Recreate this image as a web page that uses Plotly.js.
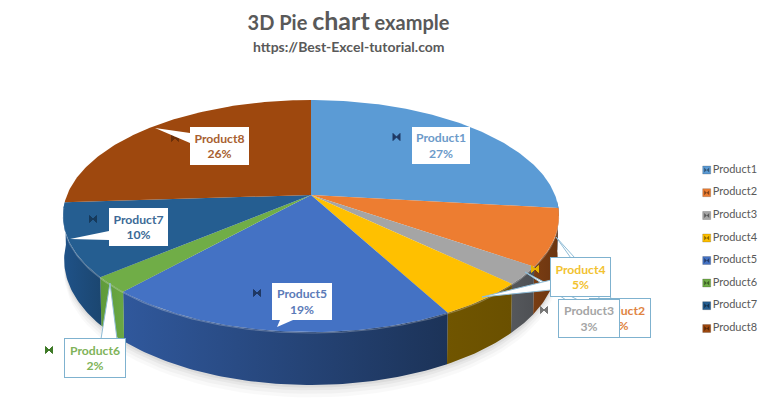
<!DOCTYPE html>
<html><head><meta charset="utf-8">
<script src="https://cdn.plot.ly/plotly-3.0.1.min.js"></script>
<style>html,body{margin:0;padding:0;background:#fff}</style></head>
<body><div id="chart" style="width:768px;height:409px"></div>
<script>
const categories = ["Product1","Product2","Product3","Product4","Product5","Product6","Product7","Product8"];
const shares = [26.8,7.9,2.5,5.0,19.4,2.2,10.2,26.0];
const topColors = ["#5b9bd5","#ed7d31","#a5a5a5","#ffc000","#4472c4","#70ad47","#255e91","#9e480e"];
const sideLeft  = ["#3f75a8","#7a3d12","#55585c","#705500","#30589c","#5f9a3a","#1f5288","#7a360a"];
const sideRight = ["#2f5f8f","#6b3510","#4e5054","#6a5000","#1c3358","#6aa844","#1b4670","#7a360a"];
const labelColors = ["#6c9ac9","#e0833f","#a5a5a5","#f2c230","#5b7ab8","#7fb35a","#3c6a96","#a8602f"];
// label boxes: left, top, right, bottom
const boxes = [[412,127,470,164],[590,299,650,337],[559,300,619,337],[551,258,610,296],[272,283,332,320],[65,339,125,377],[109,208,168,246],[190,127,249,165]];
const outlined = [false,true,true,true,false,true,false,false];
// callout wedges: tip then two base points
const wedges = [null,[[556,237],[600,299],[612,299]],[[525,272],[566,300],[578,300]],[[482,297],[551,280],[551,290]],[[277,327],[280,320],[293,320]],[[110,283],[101,339],[117,339]],[[70,239],[109,231],[109,240]],[[155,128],[190,133],[190,143]]];
const keys = [[396.5,137],null,[544,310],[535,269],[257,293],[49,350],[93,219],[175,138]];
const keyColors = ["#1f3864",null,"#777777","#e8b400","#1f3864","#3f7a28","#163a5c","#6b2f08"];
const legendY = [170,192.7,215.5,238,260.5,283,305.7,328.5];
const legendX = 706.7;

// projective view of the pie circle
const cx=311, cy=195, R=244, H=112.2, K=0.181, DEPTH=42, BX=0.995, BY=1.08;
function proj(deg, bottom){
  const t=deg*Math.PI/180, x=Math.sin(t), y=-Math.cos(t), d=1-K*y;
  return [cx+(bottom?BX:1)*R*x/d, cy+(bottom?DEPTH:0)+(bottom?BY:1)*H*y/d];
}
function arc(a,b,bottom){const n=Math.max(2,Math.ceil(Math.abs(b-a)));const o=[];for(let i=0;i<=n;i++)o.push(proj(a+(b-a)*i/n,bottom));return o;}
function poly(pts,color,extra){return Object.assign({type:"scatter",mode:"lines",x:pts.map(p=>p[0]),y:pts.map(p=>p[1]),fill:"toself",fillcolor:color,line:{width:0,color:color},hoverinfo:"skip",showlegend:false},extra||{});}

const traces=[];
// soft shadow under the pie
[[14,0.025],[10,0.03],[6,0.04],[3,0.05]].forEach(([g,a])=>{
  const pts=[];for(let d=95;d<=265;d+=3){const p=proj(d,true);pts.push([p[0],p[1]+g*0.9]);}
  traces.push(poly(pts,`rgba(0,0,0,${a})`));
});
// angular extents
const angs=[];let c=0;shares.forEach(v=>{angs.push([c*3.6,(c+v)*3.6]);c+=v;});
// visible rim: from the right extreme to the left extreme through the front
const RIM_A=93, RIM_B=266.4;
categories.forEach((n,i)=>{
  const a=Math.max(angs[i][0],RIM_A), b=Math.min(angs[i][1],RIM_B);
  if(b<=a) return;
  const pts=arc(a,b,false).concat(arc(b,a,true));
  const p=poly(pts,sideLeft[i]);
  p.fillgradient={type:"horizontal",colorscale:[[0,sideLeft[i]],[1,sideRight[i]]]};
  traces.push(p);
});
// top faces
categories.forEach((n,i)=>{
  const pts=[[cx,cy]].concat(arc(angs[i][0],angs[i][1],false)).concat([[cx,cy]]);
  traces.push(poly(pts,topColors[i]));
});
// bevel highlight along the front edge
traces.push({type:"scatter",mode:"lines",x:arc(100,264,false).map(p=>p[0]),y:arc(100,264,false).map(p=>p[1]+1),line:{width:1.2,color:"rgba(255,255,255,0.25)"},hoverinfo:"skip",showlegend:false});
// data-label keys
traces.push({type:"scatter",mode:"markers",x:keys.filter(k=>k).map(k=>k[0]),y:keys.filter(k=>k).map(k=>k[1]),marker:{symbol:"bowtie",size:7,color:keyColors.filter(k=>k),line:{width:1,color:keyColors.filter(k=>k)}},hoverinfo:"skip",showlegend:false});
// legend
traces.push({type:"scatter",mode:"markers+text",x:categories.map(()=>legendX),y:legendY,text:categories,textposition:"middle right",textfont:{family:"Lato, sans-serif",size:11,color:"#595959"},marker:{symbol:"square",size:8,color:topColors,line:{width:0.5,color:"rgba(0,0,0,0.35)"}},hoverinfo:"skip",showlegend:false});
traces.push({type:"scatter",mode:"markers",x:categories.map(()=>legendX),y:legendY,marker:{symbol:"bowtie",size:5,color:"rgba(0,0,0,0.45)"},hoverinfo:"skip",showlegend:false});

const shapes=[];
wedges.forEach((w,i)=>{ if(!w) return;
  shapes.push({type:"path",xref:"x",yref:"y",path:`M${w[0][0]},${w[0][1]}L${w[1][0]},${w[1][1]}L${w[2][0]},${w[2][1]}Z`,fillcolor:"#ffffff",line:{width:outlined[i]?1:0,color:"#8fbcd6"},layer:"above"});
});
const order=[0,7,6,4,5,1,2,3];
const annotations=order.map(i=>{const b=boxes[i];return {
  xref:"x",yref:"y",x:(b[0]+b[2])/2,y:(b[1]+b[3])/2,xanchor:"center",yanchor:"middle",showarrow:false,
  width:b[2]-b[0],height:b[3]-b[1],bgcolor:"#ffffff",borderwidth:outlined[i]?1:0,bordercolor:"#7fb2cf",borderpad:0,
  text:`<b>${categories[i]}<br>${Math.round(shares[i])}%</b>`,font:{family:"Lato, sans-serif",size:12.2,color:labelColors[i]},align:"center"};});
annotations.push({xref:"x",yref:"y",x:348.5,y:46,xanchor:"center",yanchor:"middle",showarrow:false,
  text:"<b>https://Best-Excel-tutorial.com</b>",font:{family:"Lato, sans-serif",size:14,color:"#595959"}});

const layout={
  width:768,height:409,margin:{l:0,r:0,t:0,b:0},paper_bgcolor:"#ffffff",plot_bgcolor:"#ffffff",showlegend:false,
  xaxis:{range:[0,768],visible:false,fixedrange:true},
  yaxis:{range:[409,0],visible:false,fixedrange:true},
  title:{text:'<b>3D Pie <span style="font-size:25px">chart</span> example</b>',font:{family:"Lato, sans-serif",size:20,color:"#595959"},x:0.4538,xanchor:"center",y:0.944,yanchor:"middle"},
  shapes,annotations
};
Plotly.newPlot("chart",traces,layout,{staticPlot:true,displayModeBar:false});
</script></body></html>
